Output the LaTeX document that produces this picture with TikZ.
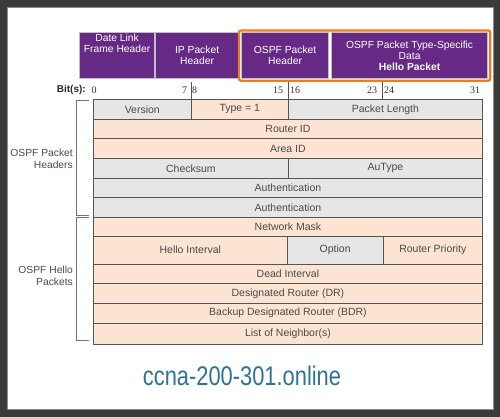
\documentclass[tikz,border=0pt]{standalone}
\usepackage{fontspec}
\setmainfont{Liberation Sans}
\newfontfamily\bitfont{Liberation Serif}
\definecolor{framebg}{HTML}{3A3A3A}
\definecolor{hdrpurple}{HTML}{662A86}
\definecolor{hiliteorange}{HTML}{F07A1C}
\definecolor{cellgrey}{HTML}{E6E6E6}
\definecolor{cellpeach}{HTML}{FDE4D2}
\definecolor{cellline}{HTML}{555555}
\definecolor{celltext}{HTML}{4A4A4A}
\definecolor{sitecol}{HTML}{2F7394}

\tikzset{
  cell/.style={draw=cellline, line width=0.9pt, anchor=north west, inner sep=0pt, text=celltext, font=\fontsize{10.5}{12}\selectfont},
  greycell/.style={cell, fill=cellgrey},
  peachcell/.style={cell, fill=cellpeach},
  hdrbox/.style={fill=hdrpurple, draw=black!25, line width=1.2pt, anchor=north west, minimum height=46, inner sep=0pt, text=white, align=center, font=\fontsize{10.3}{11}\selectfont},
  bitnum/.style={font=\bitfont\fontsize{10}{12}\selectfont, text=black!80, inner sep=0pt},
  sidelbl/.style={align=right, anchor=east, inner sep=0pt, text=celltext, font=\fontsize{10.3}{11.5}\selectfont},
  brk/.style={draw=black!55, line width=0.9pt},
  tickline/.style={draw=cellline, line width=0.9pt},
}

\begin{document}
\begin{tikzpicture}[x=1pt,y=-1pt]
\fill[framebg] (0,0) rectangle (500,417);
\fill[white, draw=black!45, line width=0.6pt] (7,7) rectangle (493,409);

% encapsulation header
\node[hdrbox, minimum width=75] (dl) at (79,32) {};
\node[text=white, align=center, anchor=north, inner sep=0pt, font=\fontsize{10.3}{11}\selectfont] (dltext) at ([yshift=-1.5pt]dl.north) {Date Link\\Frame Header};
\node[hdrbox, minimum width=83] (ip) at (155,32) {IP Packet\\Header};
\node[hdrbox, minimum width=87] (ospf) at (241,32) {OSPF Packet\\Header};
\node[hdrbox, minimum width=156] (hello) at (331,32) {OSPF Packet Type-Specific\\Data\\\textbf{Hello Packet}};
\draw[hiliteorange, line width=2.2pt, rounded corners=2pt] ([shift={(-2,-1.5)}]ospf.north west) rectangle ([shift={(2,1.5)}]hello.south east);

% bit positions
\node[anchor=east, inner sep=0pt, text=black!85, font=\bfseries\fontsize{10}{12}\selectfont] (bits) at (86,90) {Bit(s):};
\node[bitnum] (b0) at (94,90) {0};
\node[bitnum] (b7) at (184.5,90) {7};
\node[bitnum] (b8) at (194.5,90) {8};
\node[bitnum] (b15) at (278,90) {15};
\node[bitnum] (b16) at (295,90) {16};
\node[bitnum] (b23) at (372,90) {23};
\node[bitnum] (b24) at (389,90) {24};
\node[bitnum] (b31) at (475,90) {31};

% OSPF packet header
\node[greycell, minimum width=97.7, minimum height=19.7] (ver) at (93,99) {Version};
\node[peachcell, minimum width=97.3, minimum height=19.7] (type) at (190.7,99) {Type = 1};
\node[greycell, minimum width=194, minimum height=19.7] (plen) at (288,99) {Packet Length};
\node[peachcell, minimum width=389, minimum height=19.6] (rid) at (93,118.7) {Router ID};
\node[peachcell, minimum width=389, minimum height=19.7] (aid) at (93,138.3) {Area ID};
\node[greycell, minimum width=195, minimum height=19.7] (csum) at (93,158) {Checksum};
\node[greycell, minimum width=194, minimum height=19.7] (autype) at (288,158) {AuType};
\node[greycell, minimum width=389, minimum height=19.6] (auth1) at (93,177.7) {Authentication};
\node[greycell, minimum width=389, minimum height=19.7] (auth2) at (93,197.3) {Authentication};

% hello packet
\node[peachcell, minimum width=389, minimum height=19] (mask) at (93,217) {Network Mask};
\node[peachcell, minimum width=193.7, minimum height=27.5] (hint) at (93,236) {Hello Interval};
\node[greycell, minimum width=96, minimum height=27.5] (opt) at (286.7,236) {Option};
\node[peachcell, minimum width=99.3, minimum height=27.5] (prio) at (382.7,236) {Router Priority};
\node[peachcell, minimum width=389, minimum height=19.8] (dead) at (93,263.5) {Dead Interval};
\node[peachcell, minimum width=389, minimum height=19.7] (dr) at (93,283.3) {Designated Router (DR)};
\node[peachcell, minimum width=389, minimum height=19.5] (bdr) at (93,303) {Backup Designated Router (BDR)};
\node[peachcell, minimum width=389, minimum height=21] (nbr) at (93,322.5) {List of Neighbor(s)};

\coordinate (t24) at (382.5,99);
\draw[tickline] (ver.north east) -- ++(0,-17);
\draw[tickline] (type.north east) -- ++(0,-17);
\draw[tickline] (t24) -- ++(0,-17);

% brackets
\draw[brk] ([xshift=-4pt,yshift=-1pt]ver.north west) -- ++(-13,0) |- ([xshift=-4pt,yshift=2.5pt]auth2.south west);
\draw[brk] ([xshift=-4pt,yshift=-0.5pt]mask.north west) -- ++(-13,0) |- ([xshift=-4pt,yshift=4pt]nbr.south west);
\node[sidelbl] (hdrlbl) at (73,159) {OSPF Packet\\Headers};
\node[sidelbl] (hellolbl) at (73,276) {OSPF Hello\\Packets};

\node[text=sitecol, font=\fontsize{27}{30}\selectfont, xscale=0.81] (site) at (242,376) {ccna-200-301.online};
\end{tikzpicture}
\end{document}
